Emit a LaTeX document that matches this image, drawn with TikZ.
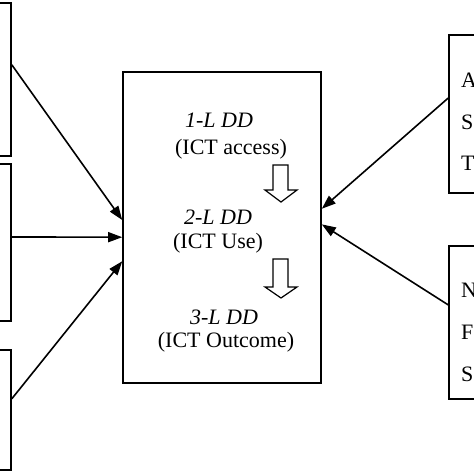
\documentclass[tikz,border=0pt]{standalone}
\usepackage{fontspec}
\setmainfont{Liberation Serif}
\usetikzlibrary{arrows.meta,calc}
\tikzset{
  box/.style={draw, line width=1.6pt, inner sep=0pt},
  conn/.style={line width=1.6pt, -{Triangle[length=14pt,width=10pt]}},
  lbl/.style={font=\fontsize{22}{26}\selectfont, inner sep=0pt},
  flow/.style={draw, line width=1.2pt, fill=white}
}
\begin{document}
\begin{tikzpicture}[x=1pt,y=-1pt]
  \clip (0,0) rectangle (474,474);

  % left boxes
  \node[box, minimum width=52pt, minimum height=153pt] (lefta) at (-15,79.5) {};
  \node[box, minimum width=52pt, minimum height=157pt] (leftb) at (-15,242.5) {};
  \node[box, minimum width=52pt, minimum height=120pt] (leftc) at (-15,410) {};

  % middle box
  \node[box, minimum width=198pt, minimum height=311pt] (core) at (222,227.5) {};
  \node[lbl] (ddone) at (219,120) {\textit{1-L DD}};
  \node[lbl] (access) at (231,149) {(ICT access)};
  \node[lbl] (ddtwo) at (218,217) {\textit{2-L DD}};
  \node[lbl] (use) at (218,243) {(ICT Use)};
  \node[lbl] (ddthree) at (224,317) {\textit{3-L DD}};
  \node[lbl] (outcome) at (226,342) {(ICT Outcome)};
  \draw[flow] (273,165) -- (288,165) -- (288,190) -- (297,190) -- (281,202)
    -- (265,190) -- (273,190) -- cycle;
  \draw[flow] (273,259) -- (288,259) -- (288,287) -- (297,287) -- (281,298)
    -- (265,287) -- (273,287) -- cycle;

  % right boxes
  \node[box, minimum width=71pt, minimum height=158pt] (righta) at (484.5,114) {};
  \node[lbl, anchor=west] (ra) at (461,80) {A};
  \node[lbl, anchor=west] (rs) at (461,122) {S};
  \node[lbl, anchor=west] (rt) at (461,163) {T};
  \node[box, minimum width=71pt, minimum height=153pt] (rightb) at (484.5,322.5) {};
  \node[lbl, anchor=west] (rn) at (461,290) {N};
  \node[lbl, anchor=west] (rf) at (461,332) {F};
  \node[lbl, anchor=west] (rs2) at (461,374) {S};

  \draw[conn] ($(lefta.north east)!0.405!(lefta.south east)$) -- ($(core.north west)!0.476!(core.south west)$);
  \draw[conn] ($(leftb.north east)!0.465!(leftb.south east)$) -- ($(core.north west)!0.531!(core.south west)$);
  \draw[conn] ($(leftc.north east)!0.408!(leftc.south east)$) -- ($(core.north west)!0.608!(core.south west)$);
  \draw[conn] ($(righta.north west)!0.4!(righta.south west)$) -- ($(core.north east)!0.44!(core.south east)$);
  \draw[conn] ($(rightb.north west)!0.386!(rightb.south west)$) -- ($(core.north east)!0.49!(core.south east)$);
\end{tikzpicture}
\end{document}
